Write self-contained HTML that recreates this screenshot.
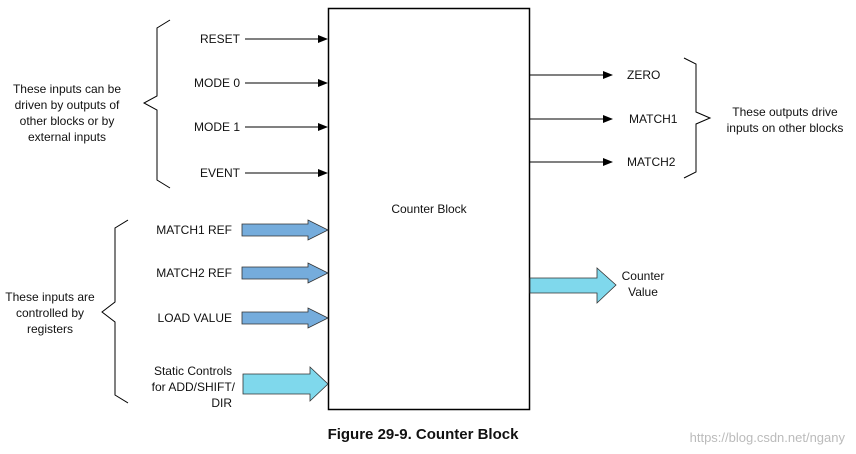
<!DOCTYPE html>
<html><head><style>body{margin:0;background:#fff}svg{display:block}text{font-family:"Liberation Sans",sans-serif;font-size:12px;fill:#111}</style></head><body>
<svg width="856" height="454" viewBox="0 0 856 454">
<defs><marker id="a" markerWidth="10" markerHeight="8" refX="9" refY="4" orient="auto" markerUnits="userSpaceOnUse"><path d="M0,0L10,4L0,8Z" fill="#000"/></marker></defs>
<rect x="328.5" y="8.5" width="201" height="401" fill="#fff" stroke="#000" stroke-width="1.5"/>
<text x="429" y="213" text-anchor="middle">Counter Block</text>
<g stroke="#000" stroke-width="1" marker-end="url(#a)">
<line x1="245" y1="39" x2="327" y2="39"/><line x1="245" y1="83" x2="327" y2="83"/><line x1="245" y1="127" x2="327" y2="127"/><line x1="245" y1="173" x2="327" y2="173"/>
<line x1="530" y1="75" x2="612" y2="75"/><line x1="530" y1="119" x2="612" y2="119"/><line x1="530" y1="162" x2="612" y2="162"/>
</g>
<g text-anchor="end"><text x="240" y="43">RESET</text><text x="240" y="87">MODE 0</text><text x="240" y="131">MODE 1</text><text x="240" y="177">EVENT</text>
<text x="232" y="234">MATCH1 REF</text><text x="232" y="277">MATCH2 REF</text><text x="232" y="322">LOAD VALUE</text>
<text x="232" y="375">Static Controls</text><text x="235" y="391">for ADD/SHIFT/</text><text x="232" y="407">DIR</text></g>
<text x="627" y="79">ZERO</text><text x="629" y="123">MATCH1</text><text x="627" y="166">MATCH2</text>
<g fill="none" stroke="#000" stroke-width="1">
<path d="M170,20L157,28L157,96L144,103L157,110L157,180L170,188"/>
<path d="M128,220L115,228L115,302L102,312L115,322L115,395L128,403"/>
<path d="M684,58L696,64L696,112L710,118L696,124L696,172L684,178"/>
</g>
<g stroke="#333" stroke-width="0.8">
<path d="M242,224H308V220L328,230L308,240V236H242Z" fill="#75acdc"/>
<path d="M242,267H308V263L328,273L308,283V279H242Z" fill="#75acdc"/>
<path d="M242,312H308V308L328,318L308,328V324H242Z" fill="#75acdc"/>
<path d="M243,374H310V367L328,384L310,401V394H243Z" fill="#7fd8ec"/>
<path d="M530,278H597V268L616,285L597,303V293H530Z" fill="#7fd8ec"/>
</g>
<g text-anchor="middle">
<text x="67" y="93">These inputs can be</text><text x="67" y="109">driven by outputs of</text><text x="67" y="125">other blocks or by</text><text x="67" y="141">external inputs</text>
<text x="50" y="301">These inputs are</text><text x="50" y="317">controlled by</text><text x="50" y="333">registers</text>
<text x="785" y="116">These outputs drive</text><text x="785" y="132">inputs on other blocks</text>
<text x="643" y="280">Counter</text><text x="643" y="296">Value</text>
<text x="423" y="439" style="font-weight:bold;font-size:15px">Figure 29-9. Counter Block</text>
</g>
<text x="845" y="442" text-anchor="end" style="fill:#bbb;font-size:13px">https://blog.csdn.net/ngany</text>
</svg>
</body></html>
